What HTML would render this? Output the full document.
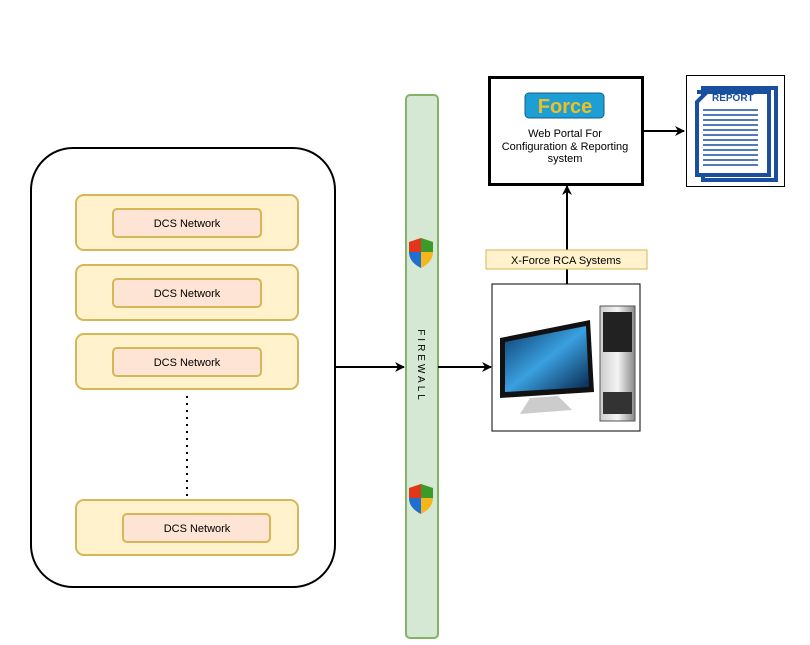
<!DOCTYPE html>
<html><head><meta charset="utf-8"><style>body{margin:0;background:#fff}svg{display:block}text{font-family:"Liberation Sans",sans-serif}</style></head><body>
<svg width="810" height="645" viewBox="0 0 810 645">
<defs><marker id="a" markerWidth="10" markerHeight="10" refX="9" refY="5" orient="auto" markerUnits="userSpaceOnUse"><path d="M0,0 L10,5 L0,10 L3,5Z" fill="#000"/></marker>
<linearGradient id="scr" x1="0" y1="0" x2="1" y2="1"><stop offset="0" stop-color="#0a3a6a"/><stop offset=".5" stop-color="#3aa0e0"/><stop offset="1" stop-color="#06244a"/></linearGradient>
<linearGradient id="tw" x1="0" x2="1"><stop offset="0" stop-color="#ccc"/><stop offset=".5" stop-color="#f4f4f4"/><stop offset="1" stop-color="#888"/></linearGradient></defs>
<rect x="31" y="148" width="304" height="439" rx="42" fill="#fff" stroke="#000" stroke-width="2"/>
<g stroke="#d6b656" stroke-width="2">
<rect x="76" y="195" width="222" height="55" rx="8" fill="#fff2cc"/>
<rect x="76" y="265" width="222" height="55" rx="8" fill="#fff2cc"/>
<rect x="76" y="334" width="222" height="55" rx="8" fill="#fff2cc"/>
<rect x="76" y="500" width="222" height="55" rx="8" fill="#fff2cc"/>
<rect x="113" y="209" width="148" height="28" rx="4" fill="#fde4d4"/>
<rect x="113" y="279" width="148" height="28" rx="4" fill="#fde4d4"/>
<rect x="113" y="348" width="148" height="28" rx="4" fill="#fde4d4"/>
<rect x="123" y="514" width="147" height="28" rx="4" fill="#fde4d4"/>
</g>
<g font-size="11" text-anchor="middle" fill="#000">
<text x="187" y="227">DCS Network</text><text x="187" y="297">DCS Network</text><text x="187" y="366">DCS Network</text><text x="197" y="532">DCS Network</text></g>
<line x1="187" y1="396" x2="187" y2="497" stroke="#000" stroke-width="2" stroke-dasharray="2,5"/>
<line x1="335" y1="367" x2="404" y2="367" stroke="#000" stroke-width="2" marker-end="url(#a)"/>
<rect x="406" y="95" width="32" height="543" rx="4" fill="#d5e8d4" stroke="#82b366" stroke-width="2"/>
<text transform="translate(418,366) rotate(90)" text-anchor="middle" font-size="10" letter-spacing="3">FIREWALL</text>
<g><path d="M421,238 l12,4 v10 q0,10 -12,16 q-12,-6 -12,-16 v-10z" fill="#f5b51b"/><path d="M421,238 l-12,4 v10 h12z" fill="#e2361c"/><path d="M421,238 l12,4 v10 h-12z" fill="#3a9a2a"/><path d="M421,252 h-12 q0,10 12,16z" fill="#1f6fd0"/></g>
<g><path d="M421,484 l12,4 v10 q0,10 -12,16 q-12,-6 -12,-16 v-10z" fill="#f5b51b"/><path d="M421,484 l-12,4 v10 h12z" fill="#e2361c"/><path d="M421,484 l12,4 v10 h-12z" fill="#3a9a2a"/><path d="M421,498 h-12 q0,10 12,16z" fill="#1f6fd0"/></g>
<line x1="438" y1="367" x2="491" y2="367" stroke="#000" stroke-width="2" marker-end="url(#a)"/>
<rect x="492" y="284" width="148" height="147" fill="#fff" stroke="#000"/>
<rect x="600" y="306" width="35" height="115" fill="url(#tw)" stroke="#555"/>
<rect x="603" y="312" width="29" height="40" fill="#222"/>
<rect x="603" y="392" width="29" height="22" fill="#333"/>
<path d="M500,338 L590,320 L594,392 L500,398Z" fill="#111"/>
<path d="M505,342 L586,326 L589,387 L505,392Z" fill="url(#scr)"/>
<path d="M530,398 l28,-2 l14,14 l-52,4z" fill="#ccc"/>
<line x1="567" y1="284" x2="567" y2="186" stroke="#000" stroke-width="2" marker-end="url(#a)"/>
<rect x="486" y="250" width="161" height="19" fill="#fff2cc" stroke="#d6b656"/>
<text x="566" y="264" text-anchor="middle" font-size="11">X-Force RCA Systems</text>
<rect x="489.5" y="77.5" width="153" height="107" fill="#fff" stroke="#000" stroke-width="3"/>
<rect x="525" y="93" width="79" height="25" rx="4" fill="#1d9fd6" stroke="#0b5f8a"/>
<text x="565" y="113" text-anchor="middle" font-size="20" font-weight="bold" fill="#f0c020" font-family="Liberation Serif,serif">Force</text>
<g font-size="11" text-anchor="middle"><text x="565" y="137">Web Portal For</text><text x="565" y="150">Configuration &amp; Reporting</text><text x="565" y="162">system</text></g>
<line x1="643" y1="131" x2="684" y2="131" stroke="#000" stroke-width="2" marker-end="url(#a)"/>
<rect x="686.5" y="75.5" width="98" height="111" fill="#fff" stroke="#000"/>
<rect x="703" y="88" width="73" height="92" fill="#fff" stroke="#1a4fa0" stroke-width="4"/>
<path d="M697,92 h72 v83 h-72 v-73 l10,-10z" fill="#fff" stroke="#1a4fa0" stroke-width="4"/>
<text x="712" y="101" font-size="10" font-weight="bold" fill="#1a4fa0">REPORT</text>
<g stroke="#1a4fa0" stroke-width="1.5"><line x1="703" y1="110" x2="758" y2="110"/><line x1="703" y1="115" x2="758" y2="115"/><line x1="703" y1="120" x2="758" y2="120"/><line x1="703" y1="125" x2="758" y2="125"/><line x1="703" y1="130" x2="758" y2="130"/><line x1="703" y1="135" x2="758" y2="135"/><line x1="703" y1="140" x2="758" y2="140"/><line x1="703" y1="145" x2="758" y2="145"/><line x1="703" y1="150" x2="758" y2="150"/><line x1="703" y1="155" x2="758" y2="155"/><line x1="703" y1="160" x2="758" y2="160"/><line x1="703" y1="165" x2="758" y2="165"/></g>
</svg>
</body></html>
